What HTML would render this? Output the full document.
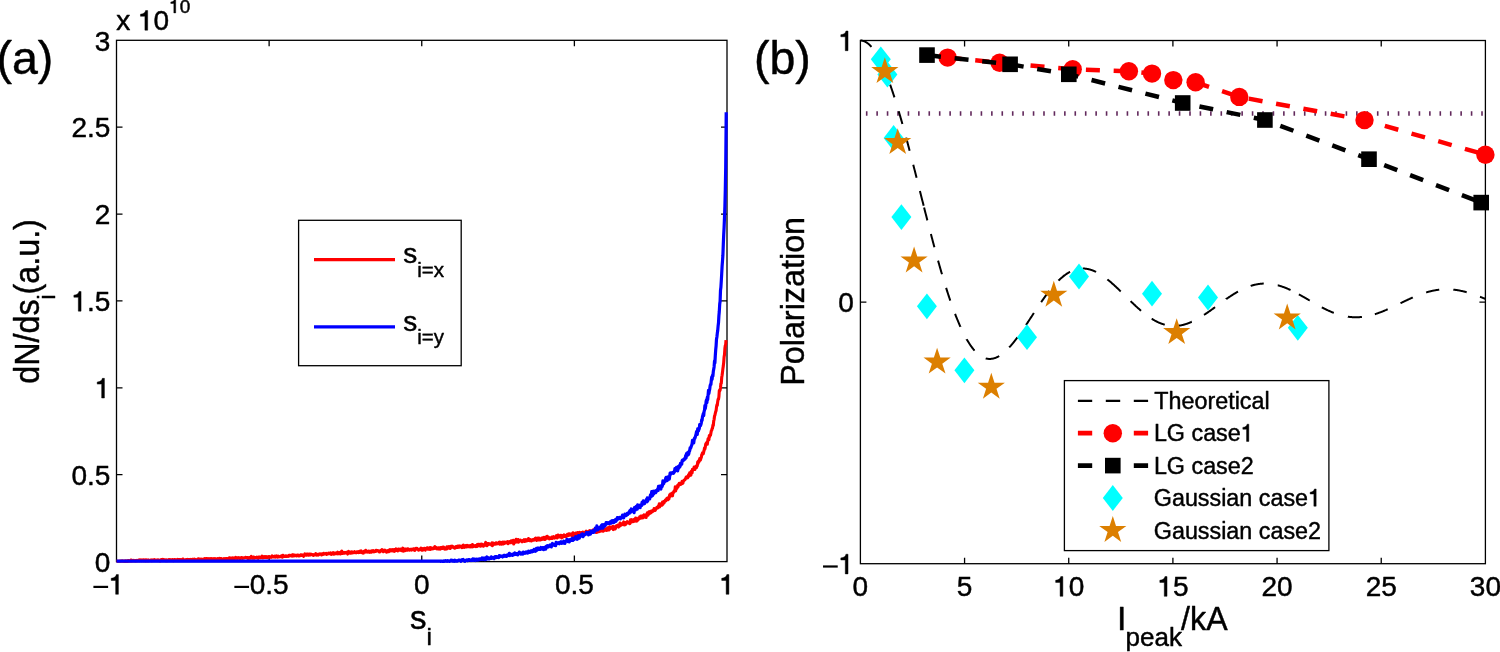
<!DOCTYPE html>
<html><head><meta charset="utf-8"><style>
html,body{margin:0;padding:0;background:#fff;width:1500px;height:652px;overflow:hidden}
svg{display:block;font-family:"Liberation Sans", sans-serif;will-change:transform}
text,.g1{stroke:#000;stroke-width:.45px;stroke-linejoin:round}
</style></head><body>
<svg width="1500" height="652" viewBox="0 0 1500 652" font-family='"Liberation Sans", sans-serif'>
<rect width="1500" height="652" fill="#fff"/>
<rect x="116.5" y="40.3" width="610.5" height="521.3" fill="none" stroke="#000" stroke-width="1.3"/>
<path d="M269.12 561.6V555.6M269.12 40.3V46.3M421.75 561.6V555.6M421.75 40.3V46.3M574.38 561.6V555.6M574.38 40.3V46.3M116.5 474.72H122.5M727 474.72H721M116.5 387.83H122.5M727 387.83H721M116.5 300.95H122.5M727 300.95H721M116.5 214.07H122.5M727 214.07H721M116.5 127.18H122.5M727 127.18H721" stroke="#000" stroke-width="1.3" fill="none"/>
<polyline points="116.5,561.3 116.9,561.28 117.3,561.27 117.7,561.25 118.1,561.23 118.5,561.21 118.9,561.2 119.3,561.18 119.7,561.16 120.1,561.15 120.5,561.13 120.9,561.11 121.3,561.03 121.7,560.93 122.1,560.83 122.5,560.96 122.9,561.14 123.3,560.96 123.7,561.22 124.1,560.94 124.5,560.97 124.9,561.3 125.3,561.06 125.7,560.8 126.1,560.86 126.5,561.02 126.9,561.3 127.3,560.79 127.7,560.78 128.1,561.07 128.5,560.59 128.9,560.73 129.3,561 129.7,560.91 130.1,560.78 130.5,560.91 130.9,560.01 131.3,560.97 131.7,560.45 132.1,560.26 132.5,560.74 132.9,560.84 133.3,560.53 133.7,560.35 134.1,560.62 134.5,560.59 134.9,560.96 135.3,560.77 135.7,560.62 136.1,560.85 136.5,560.49 136.9,560.29 137.3,560.68 137.7,560.66 138.1,560.44 138.5,560.28 138.9,560.54 139.3,559.79 139.7,560.64 140.1,560.58 140.5,559.99 140.9,560.44 141.3,560.15 141.7,560.61 142.1,559.84 142.5,560.14 142.9,560.58 143.3,560.69 143.7,559.77 144.1,560.22 144.5,560.44 144.9,560.17 145.3,560.77 145.7,559.99 146.1,560.41 146.5,560.01 146.9,560.69 147.3,560.29 147.7,560.18 148.1,559.8 148.5,560.74 148.9,560.48 149.3,560.47 149.7,560.57 150.1,560.34 150.5,560.06 150.9,560 151.3,560 151.7,560.61 152.1,559.8 152.5,560.04 152.9,560.11 153.3,560.26 153.7,560.35 154.1,559.82 154.5,559.68 154.9,560.17 155.3,560.51 155.7,560.38 156.1,560.21 156.5,560.05 156.9,560.23 157.3,560.06 157.7,560.37 158.1,559.89 158.5,560.16 158.9,560.08 159.3,560.27 159.7,560.17 160.1,560.84 160.5,560.53 160.9,560.52 161.3,559.48 161.7,559.98 162.1,559.89 162.5,560.22 162.9,559.39 163.3,560.4 163.7,560.36 164.1,559.66 164.5,559.75 164.9,559.8 165.3,560.04 165.7,560.21 166.1,560.62 166.5,559.95 166.9,560.23 167.3,560.05 167.7,560.52 168.1,560.21 168.5,560.39 168.9,559.66 169.3,559.92 169.7,559.72 170.1,560.41 170.5,560.15 170.9,559.86 171.3,559.81 171.7,560.08 172.1,559.72 172.5,559.65 172.9,560.07 173.3,560.66 173.7,559.83 174.1,559.73 174.5,559.54 174.9,559.49 175.3,560.04 175.7,560.14 176.1,559.87 176.5,559.96 176.9,559.89 177.3,559.89 177.7,559.38 178.1,559.7 178.5,559.86 178.9,559.58 179.3,559.67 179.7,559.55 180.1,559.7 180.5,560.05 180.9,559.66 181.3,559.73 181.7,560.02 182.1,559.96 182.5,560.28 182.9,559.09 183.3,560 183.7,559.58 184.1,559.76 184.5,559.97 184.9,560.04 185.3,560.02 185.7,559.73 186.1,560.18 186.5,559.58 186.9,559.61 187.3,559.9 187.7,559.47 188.1,560.32 188.5,559.95 188.9,560.31 189.3,559.6 189.7,559.48 190.1,559.64 190.5,559.81 190.9,559.38 191.3,559.68 191.7,559.55 192.1,560.06 192.5,559.32 192.9,559.86 193.3,559.31 193.7,559.2 194.1,559.27 194.5,559.1 194.9,559.53 195.3,559.8 195.7,559.51 196.1,559.65 196.5,559.97 196.9,559.52 197.3,559.48 197.7,559.32 198.1,558.87 198.5,559.64 198.9,558.8 199.3,559.59 199.7,559.36 200.1,559.72 200.5,559.32 200.9,559.06 201.3,559.44 201.7,559.12 202.1,559.24 202.5,559.3 202.9,559.23 203.3,559.21 203.7,558.98 204.1,559.18 204.5,558.52 204.9,559.17 205.3,558.81 205.7,559.58 206.1,559.62 206.5,558.53 206.9,559.22 207.3,559.12 207.7,558.8 208.1,559.32 208.5,558.97 208.9,558.52 209.3,559.02 209.7,559.05 210.1,559.12 210.5,558.65 210.9,559.28 211.3,559.31 211.7,558.65 212.1,558.8 212.5,558.99 212.9,558.81 213.3,559.6 213.7,559.06 214.1,558.62 214.5,558.69 214.9,558.93 215.3,559.74 215.7,558.87 216.1,558.96 216.5,559.09 216.9,558.88 217.3,559.68 217.7,558.68 218.1,559.12 218.5,558.9 218.9,559.05 219.3,558.41 219.7,559.44 220.1,558.76 220.5,558.8 220.9,558.44 221.3,558.5 221.7,558.95 222.1,559.09 222.5,558.99 222.9,559.14 223.3,558.96 223.7,558.7 224.1,558.97 224.5,558.87 224.9,558.61 225.3,558.9 225.7,559.09 226.1,558.69 226.5,558.47 226.9,558.84 227.3,559.26 227.7,558.48 228.1,558.51 228.5,558.48 228.9,558.96 229.3,557.83 229.7,558.62 230.1,558.91 230.5,558.16 230.9,558.99 231.3,558.63 231.7,558.21 232.1,558.48 232.5,557.82 232.9,558.17 233.3,559.04 233.7,558.01 234.1,559.02 234.5,558.29 234.9,558.68 235.3,558.31 235.7,557.43 236.1,558.04 236.5,558.32 236.9,557.8 237.3,557.71 237.7,558.34 238.1,557.94 238.5,557.53 238.9,557.9 239.3,558.47 239.7,557.95 240.1,558.47 240.5,558.68 240.9,558.09 241.3,557.63 241.7,557.55 242.1,558.02 242.5,558.36 242.9,558.11 243.3,558.2 243.7,557.8 244.1,558.07 244.5,557.76 244.9,557.8 245.3,557.41 245.7,557.28 246.1,557.69 246.5,557.43 246.9,557.47 247.3,558.09 247.7,557.77 248.1,558.94 248.5,558.14 248.9,557.51 249.3,558.05 249.7,557.87 250.1,557.44 250.5,558.13 250.9,557.37 251.3,556.44 251.7,557.96 252.1,557.38 252.5,558.2 252.9,557.33 253.3,557.1 253.7,558.18 254.1,557.11 254.5,557.6 254.9,558.09 255.3,557.53 255.7,557.43 256.1,557.49 256.5,557.77 256.9,557.09 257.3,557.64 257.7,557.61 258.1,558.31 258.5,557.2 258.9,556.95 259.3,557.61 259.7,557.12 260.1,557.39 260.5,557.3 260.9,557.71 261.3,556.94 261.7,557.15 262.1,556.12 262.5,556.79 262.9,557.78 263.3,556.83 263.7,556.81 264.1,556.57 264.5,557.3 264.9,557.12 265.3,556.53 265.7,557.29 266.1,557.1 266.5,557.28 266.9,556.68 267.3,557.66 267.7,557.08 268.1,556.84 268.5,556.65 268.9,556.75 269.3,557.2 269.7,556.7 270.1,557.26 270.5,557.02 270.9,557.33 271.3,557.09 271.7,556.69 272.1,555.88 272.5,556.81 272.9,557 273.3,556.71 273.7,556.86 274.1,556.4 274.5,556.42 274.9,556.15 275.3,557.13 275.7,556.59 276.1,556.29 276.5,555.9 276.9,556.39 277.3,557.07 277.7,556.62 278.1,556.08 278.5,557.01 278.9,556.99 279.3,556.77 279.7,556.67 280.1,556.81 280.5,556.52 280.9,556.6 281.3,555.89 281.7,556.88 282.1,556.3 282.5,557.08 282.9,555.24 283.3,556.45 283.7,556.55 284.1,555.94 284.5,556.27 284.9,556.39 285.3,556.29 285.7,555.76 286.1,555.92 286.5,556.43 286.9,556.52 287.3,555.97 287.7,555.94 288.1,555.97 288.5,556.33 288.9,555.36 289.3,555.21 289.7,555.85 290.1,555.27 290.5,555.48 290.9,555.77 291.3,555.93 291.7,555.19 292.1,556.03 292.5,554.82 292.9,555.87 293.3,554.87 293.7,554.99 294.1,555.86 294.5,555.35 294.9,555.14 295.3,555.28 295.7,555.69 296.1,555.42 296.5,555.41 296.9,555.9 297.3,555.05 297.7,555.14 298.1,555.09 298.5,555.87 298.9,555.76 299.3,555.88 299.7,555.24 300.1,555.15 300.5,555.61 300.9,555 301.3,555.56 301.7,555.48 302.1,554.78 302.5,555.05 302.9,555.01 303.3,555.88 303.7,556.26 304.1,554.95 304.5,554.99 304.9,553.86 305.3,555.03 305.7,554.91 306.1,554.37 306.5,555.24 306.9,554.08 307.3,554.71 307.7,554.86 308.1,554.16 308.5,555.16 308.9,555.24 309.3,554.02 309.7,553.99 310.1,554.95 310.5,554.62 310.9,554.01 311.3,554.44 311.7,554.51 312.1,554.47 312.5,554.92 312.9,554.68 313.3,555.34 313.7,555.12 314.1,554.76 314.5,554.93 314.9,555.03 315.3,554.7 315.7,553.72 316.1,554.73 316.5,554.32 316.9,555.07 317.3,554.28 317.7,554.48 318.1,554.36 318.5,555.01 318.9,554.23 319.3,553.99 319.7,554.26 320.1,553.86 320.5,554.14 320.9,554.03 321.3,554.15 321.7,554.96 322.1,553.76 322.5,553.96 322.9,553.82 323.3,554.24 323.7,553.28 324.1,553.5 324.5,553.81 324.9,554.09 325.3,553.77 325.7,553.51 326.1,553.3 326.5,553.99 326.9,554.45 327.3,553.85 327.7,553.76 328.1,553.87 328.5,553.13 328.9,553.44 329.3,553.44 329.7,553.71 330.1,553.52 330.5,552.88 330.9,554.08 331.3,554.35 331.7,553.31 332.1,553.64 332.5,553.55 332.9,553.8 333.3,552.6 333.7,554.19 334.1,553.08 334.5,553.97 334.9,553.33 335.3,553.06 335.7,553.17 336.1,553.69 336.5,552.75 336.9,552.98 337.3,552.9 337.7,552.23 338.1,553.8 338.5,553.4 338.9,553.06 339.3,553.67 339.7,552.53 340.1,552.98 340.5,553.91 340.9,553.49 341.3,551.77 341.7,551.16 342.1,552.36 342.5,553.46 342.9,552.62 343.3,552.73 343.7,553.15 344.1,552.33 344.5,552.9 344.9,553.19 345.3,553 345.7,552.94 346.1,552.38 346.5,552.96 346.9,552.43 347.3,553.34 347.7,554.01 348.1,552.2 348.5,551.4 348.9,552.33 349.3,552.74 349.7,553.08 350.1,553.08 350.5,552.05 350.9,552.02 351.3,553.12 351.7,551.82 352.1,552.98 352.5,552.24 352.9,552.77 353.3,552.71 353.7,552.73 354.1,552.73 354.5,551.72 354.9,552.4 355.3,552.23 355.7,552.37 356.1,552.85 356.5,552.01 356.9,551.74 357.3,551.71 357.7,551.92 358.1,552.48 358.5,551.6 358.9,552.67 359.3,552.17 359.7,551.86 360.1,551.22 360.5,552.08 360.9,552.3 361.3,550.92 361.7,552.54 362.1,552.77 362.5,552.02 362.9,552.09 363.3,553.14 363.7,552.46 364.1,551.25 364.5,551.72 364.9,551.62 365.3,551.6 365.7,550.34 366.1,552.07 366.5,551.26 366.9,551.69 367.3,551.5 367.7,552.05 368.1,551.37 368.5,551.07 368.9,551.8 369.3,552.27 369.7,551.27 370.1,552.21 370.5,551.56 370.9,551.09 371.3,552.24 371.7,550.88 372.1,551.91 372.5,551.03 372.9,551.55 373.3,550.57 373.7,550.77 374.1,551.84 374.5,551.32 374.9,551.21 375.3,550.92 375.7,551.4 376.1,550.33 376.5,550.47 376.9,551 377.3,550.59 377.7,550.65 378.1,550.99 378.5,550.93 378.9,550.87 379.3,551.93 379.7,551.54 380.1,551.65 380.5,550.9 380.9,550.61 381.3,550.04 381.7,550.66 382.1,549.63 382.5,550.49 382.9,551.25 383.3,551.73 383.7,551.33 384.1,550.25 384.5,551.02 384.9,550.25 385.3,551.17 385.7,550.61 386.1,551.16 386.5,552.14 386.9,551.16 387.3,551.97 387.7,550.69 388.1,550.37 388.5,551.33 388.9,551.54 389.3,550.19 389.7,550.54 390.1,549.63 390.5,550.34 390.9,550.96 391.3,550.37 391.7,550.07 392.1,549.56 392.5,550.59 392.9,550.82 393.3,550.69 393.7,550.47 394.1,549.54 394.5,551.32 394.9,550.23 395.3,550.16 395.7,550.66 396.1,548.93 396.5,550.15 396.9,550.09 397.3,550.38 397.7,550.94 398.1,550.4 398.5,549.01 398.9,549.88 399.3,550.19 399.7,550.14 400.1,549.27 400.5,549.02 400.9,550.32 401.3,550.18 401.7,549.95 402.1,548.91 402.5,550.98 402.9,548.17 403.3,549.67 403.7,551.12 404.1,549.76 404.5,549.97 404.9,549.11 405.3,550.61 405.7,549 406.1,549.92 406.5,549.83 406.9,549.1 407.3,550.25 407.7,548.84 408.1,549.26 408.5,549.64 408.9,549.39 409.3,549.91 409.7,550.17 410.1,549.41 410.5,549.25 410.9,549.25 411.3,549.32 411.7,550.02 412.1,549.38 412.5,549.74 412.9,549.42 413.3,548.94 413.7,549.97 414.1,548.79 414.5,549.41 414.9,550.3 415.3,548.71 415.7,549.32 416.1,548.37 416.5,549.01 416.9,548.39 417.3,549.07 417.7,548.94 418.1,549.34 418.5,550.21 418.9,549.39 419.3,549.61 419.7,549.15 420.1,549.02 420.5,548.64 420.9,548.03 421.3,549.16 421.7,550.1 422.1,549.37 422.5,548.73 422.9,550.06 423.3,548.76 423.7,548.63 424.1,548.24 424.5,548.38 424.9,548.8 425.3,550.17 425.7,548.79 426.1,548.26 426.5,548.5 426.9,548.72 427.3,547.77 427.7,548.9 428.1,549.23 428.5,548.98 428.9,549.13 429.3,547.93 429.7,547.66 430.1,549.5 430.5,549.36 430.9,547.69 431.3,548.76 431.7,548.63 432.1,548.93 432.5,548.7 432.9,548.23 433.3,548.65 433.7,548.6 434.1,548.45 434.5,547.3 434.9,546.56 435.3,547.92 435.7,547.37 436.1,548.53 436.5,548.8 436.9,548.49 437.3,548.07 437.7,548.33 438.1,549 438.5,547.78 438.9,548.8 439.3,548.64 439.7,548.33 440.1,549.07 440.5,547.67 440.9,548.7 441.3,547.49 441.7,547.56 442.1,547.35 442.5,548.29 442.9,547.38 443.3,547.99 443.7,547.21 444.1,548.59 444.5,549.06 444.9,548 445.3,548.89 445.7,548.17 446.1,549.18 446.5,547.83 446.9,546.73 447.3,548.67 447.7,547.6 448.1,546.99 448.5,547.21 448.9,546.56 449.3,547.48 449.7,546.87 450.1,548.49 450.5,547.94 450.9,546.41 451.3,546.48 451.7,547.06 452.1,546.15 452.5,547.3 452.9,547.32 453.3,546.82 453.7,546.94 454.1,547.59 454.5,548.16 454.9,548.19 455.3,547.21 455.7,547.72 456.1,546.65 456.5,547.37 456.9,546.45 457.3,547.52 457.7,546.21 458.1,546.36 458.5,546.95 458.9,547.3 459.3,545.96 459.7,546.52 460.1,546.93 460.5,546.97 460.9,546.23 461.3,546.82 461.7,546.55 462.1,547.62 462.5,547.04 462.9,545.76 463.3,545.15 463.7,546.64 464.1,547.33 464.5,546.63 464.9,547.07 465.3,546.13 465.7,545.52 466.1,546.89 466.5,546.43 466.9,546.78 467.3,545.37 467.7,546.39 468.1,545.81 468.5,546.74 468.9,545.77 469.3,545.72 469.7,545.7 470.1,546.91 470.5,546.05 470.9,545.48 471.3,545.27 471.7,545.21 472.1,546.87 472.5,544.62 472.9,545.23 473.3,546.2 473.7,546.53 474.1,545.6 474.5,546.19 474.9,546.14 475.3,546.25 475.7,545.58 476.1,546.63 476.5,545.61 476.9,546.48 477.3,544.65 477.7,546 478.1,544.46 478.5,544.26 478.9,545.59 479.3,544.64 479.7,545.47 480.1,544.39 480.5,546.19 480.9,545.05 481.3,544.23 481.7,545.09 482.1,545.54 482.5,544.35 482.9,545.2 483.3,546.23 483.7,545.37 484.1,544.72 484.5,544.28 484.9,545.04 485.3,543.54 485.7,542.43 486.1,544.05 486.5,543.71 486.9,545.65 487.3,544.49 487.7,543.65 488.1,543.49 488.5,544.61 488.9,543.63 489.3,543.77 489.7,544.07 490.1,544.15 490.5,544.12 490.9,544.09 491.3,544.89 491.7,545.13 492.1,542.71 492.5,545.67 492.9,543.89 493.3,544.64 493.7,543.19 494.1,543.9 494.5,543.78 494.9,543.67 495.3,544.15 495.7,543.96 496.1,542.74 496.5,543.33 496.9,543.9 497.3,543.83 497.7,543.05 498.1,543.05 498.5,543.1 498.9,542.37 499.3,542.2 499.7,544.22 500.1,542.76 500.5,543.07 500.9,542.42 501.3,543.87 501.7,544.16 502.1,542.68 502.5,543.18 502.9,542.22 503.3,544.01 503.7,543.36 504.1,542.03 504.5,543.52 504.9,542.83 505.3,542.83 505.7,542.75 506.1,541.96 506.5,542.02 506.9,542.83 507.3,542.3 507.7,541.6 508.1,543.75 508.5,542.06 508.9,541.76 509.3,541.62 509.7,542.61 510.1,542.78 510.5,542.21 510.9,542.63 511.3,540.84 511.7,541.63 512.1,541.52 512.5,541.84 512.9,542.16 513.3,540.24 513.7,544.04 514.1,541.03 514.5,541.9 514.9,542.22 515.3,542.2 515.7,541.7 516.1,539.3 516.5,540.63 516.9,541.97 517.3,540.67 517.7,540.53 518.1,539.51 518.5,542.16 518.9,541.59 519.3,540.49 519.7,541.02 520.1,541.01 520.5,540.2 520.9,540.8 521.3,541.16 521.7,541.34 522.1,541.84 522.5,540.87 522.9,540.45 523.3,541.07 523.7,540.24 524.1,539.73 524.5,541.51 524.9,540.31 525.3,540.65 525.7,541.02 526.1,539.64 526.5,540.93 526.9,540.75 527.3,540.29 527.7,540.62 528.1,539.7 528.5,538.55 528.9,539.98 529.3,539.46 529.7,540.78 530.1,540.28 530.5,539.62 530.9,540.03 531.3,540.99 531.7,540.78 532.1,540.15 532.5,540.15 532.9,539.56 533.3,539.63 533.7,540.15 534.1,539.55 534.5,539.84 534.9,538.69 535.3,538.22 535.7,538.15 536.1,539.09 536.5,540.42 536.9,540.26 537.3,538.51 537.7,538.03 538.1,539.82 538.5,539.52 538.9,538.04 539.3,539.89 539.7,539.15 540.1,540.01 540.5,539.19 540.9,539.58 541.3,539.08 541.7,538.03 542.1,538.55 542.5,538.15 542.9,539.3 543.3,537.8 543.7,537.33 544.1,539.04 544.5,539.36 544.9,539.55 545.3,539.22 545.7,537.1 546.1,537.69 546.5,537.76 546.9,538.13 547.3,536.38 547.7,538.04 548.1,538.22 548.5,537.19 548.9,538 549.3,538.81 549.7,537.84 550.1,538.6 550.5,538.51 550.9,537.98 551.3,537.9 551.7,537.24 552.1,538.5 552.5,537.06 552.9,536.82 553.3,537.91 553.7,536.7 554.1,537.58 554.5,538.04 554.9,537.19 555.3,537.16 555.7,537.77 556.1,537.58 556.5,535.66 556.9,535.79 557.3,537.9 557.7,537.07 558.1,535 558.5,535.54 558.9,536.61 559.3,535.73 559.7,536.87 560.1,536.49 560.5,536.78 560.9,535.36 561.3,536.78 561.7,537.83 562.1,535.5 562.5,537.19 562.9,536.86 563.3,536.52 563.7,535.88 564.1,534.91 564.5,535.09 564.9,536.4 565.3,536.52 565.7,536.67 566.1,536.39 566.5,536.29 566.9,535.11 567.3,534.41 567.7,535.53 568.1,535.72 568.5,535.31 568.9,533.91 569.3,534.69 569.7,533.82 570.1,535.13 570.5,534.06 570.9,534.75 571.3,535.1 571.7,534.88 572.1,535.87 572.5,533.71 572.9,532.74 573.3,535.33 573.7,535.66 574.1,535.63 574.5,534.59 574.9,534.74 575.3,534.32 575.7,533.05 576.1,533.6 576.5,534.45 576.9,533.46 577.3,535.52 577.7,532.49 578.1,533.37 578.5,534.63 578.9,533.08 579.3,532.56 579.7,532.29 580.1,532.76 580.5,534.62 580.9,533.59 581.3,533.61 581.7,532.64 582.1,533.75 582.5,533.04 582.9,532.07 583.3,532.4 583.7,532.9 584.1,533.67 584.5,532.53 584.9,532.94 585.3,534.2 585.7,531.66 586.1,531.2 586.5,533.08 586.9,532.53 587.3,531.99 587.7,532.24 588.1,531.65 588.5,532.33 588.9,531.51 589.3,532.45 589.7,530.64 590.1,530.89 590.5,531.66 590.9,531.07 591.3,532.05 591.7,531.34 592.1,530.83 592.5,531.45 592.9,530.74 593.3,529.77 593.7,530.1 594.1,530.35 594.5,530.6 594.9,531.06 595.3,531.75 595.7,531.38 596.1,532.44 596.5,531.95 596.9,530.6 597.3,532.21 597.7,531.75 598.1,530.24 598.5,530.89 598.9,531.55 599.3,530.74 599.7,531.4 600.1,530.8 600.5,531.04 600.9,530.07 601.3,530.65 601.7,529.94 602.1,530.83 602.5,528.64 602.9,530.42 603.3,531.2 603.7,530.54 604.1,529.93 604.5,530.38 604.9,529.06 605.3,529.01 605.7,529.37 606.1,529.49 606.5,530.43 606.9,528.65 607.3,530.29 607.7,527.83 608.1,528.45 608.5,529.03 608.9,530.01 609.3,528.26 609.7,526.72 610.1,528.96 610.5,528.41 610.9,527.3 611.3,527.19 611.7,527.38 612.1,527.97 612.5,528.35 612.9,526.2 613.3,529.58 613.7,527.25 614.1,526.78 614.5,527.61 614.9,526.93 615.3,528.89 615.7,527.56 616.1,526.02 616.5,525.85 616.9,525.6 617.3,525.6 617.7,526.43 618.1,525.03 618.5,527.06 618.9,525.29 619.3,525.1 619.7,526.02 620.1,523.06 620.5,523.93 620.9,525.29 621.3,524.59 621.7,524.43 622.1,524.7 622.5,523.6 622.9,523.89 623.3,522.59 623.7,521.96 624.1,524.91 624.5,522.62 624.9,522.7 625.3,524.65 625.7,524.19 626.1,522.49 626.5,522.36 626.9,522.67 627.3,521.67 627.7,523.03 628.1,522.5 628.5,522.35 628.9,522.84 629.3,522.67 629.7,523.66 630.1,523.2 630.5,519.81 630.9,522.3 631.3,520.12 631.7,519.66 632.1,521.68 632.5,520.1 632.9,520.35 633.3,521.61 633.7,519.69 634.1,519.3 634.5,520.4 634.9,521.16 635.3,520.29 635.7,517.99 636.1,518.76 636.5,519.1 636.9,521.09 637.3,519.85 637.7,519.64 638.1,519.83 638.5,518.08 638.9,518.73 639.3,518.56 639.7,516.85 640.1,517.67 640.5,518.09 640.9,516.18 641.3,517.98 641.7,517.73 642.1,517.83 642.5,515.72 642.9,516.46 643.3,517.69 643.7,516.79 644.1,514.9 644.5,515.78 644.9,516.85 645.3,515.04 645.7,515.32 646.1,517.47 646.5,514.44 646.9,514.14 647.3,512.95 647.7,513.1 648.1,515.21 648.5,513.21 648.9,511.84 649.3,511.88 649.7,512.68 650.1,513.28 650.5,511.38 650.9,512.75 651.3,511.17 651.7,511.87 652.1,511.8 652.5,511.65 652.9,510.24 653.3,510.28 653.7,510.78 654.1,508.49 654.5,509.88 654.9,510.01 655.3,510.34 655.7,508.85 656.1,508.41 656.5,508.51 656.9,507.23 657.3,507.55 657.7,507.98 658.1,507.54 658.5,505.71 658.9,506.24 659.3,503.85 659.7,506.92 660.1,505.05 660.5,505.63 660.9,503.73 661.3,504.58 661.7,504.87 662.1,505.16 662.5,502.03 662.9,504.29 663.3,502.73 663.7,501.64 664.1,502.77 664.5,501.47 664.9,501.09 665.3,500.21 665.7,500.94 666.1,500.32 666.5,499.67 666.9,498.32 667.3,498.42 667.7,499.07 668.1,499.67 668.5,497.63 668.9,498.88 669.3,496.69 669.7,494.91 670.1,496.49 670.5,494.08 670.9,495.24 671.3,495.56 671.7,493.44 672.1,493.24 672.5,495.84 672.9,492.71 673.3,492.27 673.7,492.43 674.1,490.91 674.5,490.45 674.9,490.55 675.3,486.76 675.7,490.86 676.1,487.42 676.5,486.95 676.9,488.42 677.3,487.35 677.7,485.37 678.1,486.67 678.5,484.6 678.9,484.69 679.3,483.28 679.7,483.65 680.1,484.68 680.5,483.93 680.9,483.73 681.3,484.05 681.7,482.48 682.1,481.34 682.5,481.4 682.9,483.32 683.3,480.99 683.7,480.95 684.1,480.07 684.5,480.09 684.9,479.93 685.3,479.02 685.7,478.46 686.1,477.32 686.5,476.85 686.9,477.95 687.3,477.96 687.7,477.76 688.1,476.31 688.5,474.84 688.9,476.15 689.3,475.7 689.7,472.72 690.1,475.05 690.5,474.35 690.9,475.2 691.3,471.41 691.7,470.78 692.1,472.79 692.5,469.24 692.9,470.03 693.3,469.11 693.7,468.7 694.1,467.11 694.5,468.58 694.9,469.48 695.3,468.27 695.7,467.67 696.1,466.09 696.5,467.6 696.9,465.84 697.3,465.78 697.7,461.96 698.1,463.5 698.5,460.97 698.9,462 699.3,461.05 699.7,458.68 700.1,459.44 700.5,459.82 700.9,458.21 701.3,457.5 701.7,454.92 702.1,454.27 702.5,452.86 702.9,453.43 703.3,453.76 703.7,451.9 704.1,450.41 704.5,448.09 704.9,448.98 705.3,447.17 705.7,444.16 706.1,443.35 706.5,443.97 706.9,442.25 707.3,444.22 707.7,441.21 708.1,438.83 708.5,438.38 708.9,439.75 709.3,435.63 709.7,436.61 710.1,435.13 710.5,435.26 710.9,433 711.3,430.68 711.7,430.52 712.1,428.59 712.5,428.18 712.9,425.18 713.3,425.62 713.7,421.02 714.1,419.55 714.5,416.22 714.9,415.26 715.3,413.29 715.7,411.63 716.1,410.68 716.5,407.13 716.9,404.9 717.3,405.32 717.7,401.68 718.1,399.22 718.5,399.36 718.9,396.81 719.3,390.55 719.7,390.99 720.1,390.04 720.5,387.67 720.9,383.51 721.3,383.3 721.7,377.61 722.1,375.19 722.5,372.32 722.9,368.7 723.3,366.06 723.7,362.35 724.1,356.92 724.5,354.64 724.9,348.48 725.3,345.53 725.7,344.49 726,340.15" fill="none" stroke="#f00" stroke-width="3.1" stroke-linejoin="round"/><polyline points="116.5,561.2 116.9,561.2 117.3,561.2 117.7,561.2 118.1,561.2 118.5,561.2 118.9,561.2 119.3,561.2 119.7,561.2 120.1,561.2 120.5,561.2 120.9,561.2 121.3,561.2 121.7,561.2 122.1,561.2 122.5,561.2 122.9,561.2 123.3,561.2 123.7,561.2 124.1,561.2 124.5,561.2 124.9,561.2 125.3,561.2 125.7,561.2 126.1,561.2 126.5,561.2 126.9,561.2 127.3,561.2 127.7,561.2 128.1,561.2 128.5,561.2 128.9,561.2 129.3,561.2 129.7,561.2 130.1,561.2 130.5,561.2 130.9,561.2 131.3,561.2 131.7,561.2 132.1,561.2 132.5,561.2 132.9,561.2 133.3,561.2 133.7,561.2 134.1,561.2 134.5,561.2 134.9,561.2 135.3,561.2 135.7,561.2 136.1,561.2 136.5,561.2 136.9,561.2 137.3,561.2 137.7,561.2 138.1,561.2 138.5,561.2 138.9,561.2 139.3,561.2 139.7,561.2 140.1,561.2 140.5,561.2 140.9,561.2 141.3,561.2 141.7,561.2 142.1,561.2 142.5,561.2 142.9,561.2 143.3,561.2 143.7,561.2 144.1,561.2 144.5,561.2 144.9,561.2 145.3,561.2 145.7,561.2 146.1,561.2 146.5,561.2 146.9,561.2 147.3,561.2 147.7,561.2 148.1,561.2 148.5,561.2 148.9,561.2 149.3,561.2 149.7,561.2 150.1,561.2 150.5,561.2 150.9,561.2 151.3,561.2 151.7,561.2 152.1,561.2 152.5,561.2 152.9,561.2 153.3,561.2 153.7,561.2 154.1,561.2 154.5,561.2 154.9,561.2 155.3,561.2 155.7,561.2 156.1,561.2 156.5,561.2 156.9,561.2 157.3,561.2 157.7,561.2 158.1,561.2 158.5,561.2 158.9,561.2 159.3,561.2 159.7,561.2 160.1,561.2 160.5,561.2 160.9,561.2 161.3,561.2 161.7,561.2 162.1,561.2 162.5,561.2 162.9,561.2 163.3,561.2 163.7,561.2 164.1,561.2 164.5,561.2 164.9,561.2 165.3,561.2 165.7,561.2 166.1,561.2 166.5,561.2 166.9,561.2 167.3,561.2 167.7,561.2 168.1,561.2 168.5,561.2 168.9,561.2 169.3,561.2 169.7,561.2 170.1,561.2 170.5,561.2 170.9,561.2 171.3,561.2 171.7,561.2 172.1,561.2 172.5,561.2 172.9,561.2 173.3,561.2 173.7,561.2 174.1,561.2 174.5,561.2 174.9,561.2 175.3,561.2 175.7,561.2 176.1,561.2 176.5,561.2 176.9,561.2 177.3,561.2 177.7,561.2 178.1,561.2 178.5,561.2 178.9,561.2 179.3,561.2 179.7,561.2 180.1,561.2 180.5,561.2 180.9,561.2 181.3,561.2 181.7,561.2 182.1,561.2 182.5,561.2 182.9,561.2 183.3,561.2 183.7,561.2 184.1,561.2 184.5,561.2 184.9,561.2 185.3,561.2 185.7,561.2 186.1,561.2 186.5,561.2 186.9,561.2 187.3,561.2 187.7,561.2 188.1,561.2 188.5,561.2 188.9,561.2 189.3,561.2 189.7,561.2 190.1,561.2 190.5,561.2 190.9,561.2 191.3,561.2 191.7,561.2 192.1,561.2 192.5,561.2 192.9,561.2 193.3,561.2 193.7,561.2 194.1,561.2 194.5,561.2 194.9,561.2 195.3,561.2 195.7,561.2 196.1,561.2 196.5,561.2 196.9,561.2 197.3,561.2 197.7,561.2 198.1,561.2 198.5,561.2 198.9,561.2 199.3,561.2 199.7,561.2 200.1,561.2 200.5,561.2 200.9,561.2 201.3,561.2 201.7,561.2 202.1,561.2 202.5,561.2 202.9,561.2 203.3,561.2 203.7,561.2 204.1,561.2 204.5,561.2 204.9,561.2 205.3,561.2 205.7,561.2 206.1,561.2 206.5,561.2 206.9,561.2 207.3,561.2 207.7,561.2 208.1,561.2 208.5,561.2 208.9,561.2 209.3,561.2 209.7,561.2 210.1,561.2 210.5,561.2 210.9,561.2 211.3,561.2 211.7,561.2 212.1,561.2 212.5,561.2 212.9,561.2 213.3,561.2 213.7,561.2 214.1,561.2 214.5,561.2 214.9,561.2 215.3,561.2 215.7,561.2 216.1,561.2 216.5,561.2 216.9,561.2 217.3,561.2 217.7,561.2 218.1,561.2 218.5,561.2 218.9,561.2 219.3,561.2 219.7,561.2 220.1,561.2 220.5,561.2 220.9,561.2 221.3,561.2 221.7,561.2 222.1,561.2 222.5,561.2 222.9,561.2 223.3,561.2 223.7,561.2 224.1,561.2 224.5,561.2 224.9,561.2 225.3,561.2 225.7,561.2 226.1,561.2 226.5,561.2 226.9,561.2 227.3,561.2 227.7,561.2 228.1,561.2 228.5,561.2 228.9,561.2 229.3,561.2 229.7,561.2 230.1,561.2 230.5,561.2 230.9,561.2 231.3,561.2 231.7,561.2 232.1,561.2 232.5,561.2 232.9,561.2 233.3,561.2 233.7,561.2 234.1,561.2 234.5,561.2 234.9,561.2 235.3,561.2 235.7,561.2 236.1,561.2 236.5,561.2 236.9,561.2 237.3,561.2 237.7,561.2 238.1,561.2 238.5,561.2 238.9,561.2 239.3,561.2 239.7,561.2 240.1,561.2 240.5,561.2 240.9,561.2 241.3,561.2 241.7,561.2 242.1,561.2 242.5,561.2 242.9,561.2 243.3,561.2 243.7,561.2 244.1,561.2 244.5,561.2 244.9,561.2 245.3,561.2 245.7,561.2 246.1,561.2 246.5,561.2 246.9,561.2 247.3,561.2 247.7,561.2 248.1,561.2 248.5,561.2 248.9,561.2 249.3,561.2 249.7,561.2 250.1,561.2 250.5,561.2 250.9,561.2 251.3,561.2 251.7,561.2 252.1,561.2 252.5,561.2 252.9,561.2 253.3,561.2 253.7,561.2 254.1,561.2 254.5,561.2 254.9,561.2 255.3,561.2 255.7,561.2 256.1,561.2 256.5,561.2 256.9,561.2 257.3,561.2 257.7,561.2 258.1,561.2 258.5,561.2 258.9,561.2 259.3,561.2 259.7,561.2 260.1,561.2 260.5,561.2 260.9,561.2 261.3,561.2 261.7,561.2 262.1,561.2 262.5,561.2 262.9,561.2 263.3,561.2 263.7,561.2 264.1,561.2 264.5,561.2 264.9,561.2 265.3,561.2 265.7,561.2 266.1,561.2 266.5,561.2 266.9,561.2 267.3,561.2 267.7,561.2 268.1,561.2 268.5,561.2 268.9,561.2 269.3,561.2 269.7,561.2 270.1,561.2 270.5,561.2 270.9,561.2 271.3,561.2 271.7,561.2 272.1,561.2 272.5,561.2 272.9,561.2 273.3,561.2 273.7,561.2 274.1,561.2 274.5,561.2 274.9,561.2 275.3,561.2 275.7,561.2 276.1,561.2 276.5,561.2 276.9,561.2 277.3,561.2 277.7,561.2 278.1,561.2 278.5,561.2 278.9,561.2 279.3,561.2 279.7,561.2 280.1,561.2 280.5,561.2 280.9,561.2 281.3,561.2 281.7,561.2 282.1,561.2 282.5,561.2 282.9,561.2 283.3,561.2 283.7,561.2 284.1,561.2 284.5,561.2 284.9,561.2 285.3,561.2 285.7,561.2 286.1,561.2 286.5,561.2 286.9,561.2 287.3,561.2 287.7,561.2 288.1,561.2 288.5,561.2 288.9,561.2 289.3,561.2 289.7,561.2 290.1,561.2 290.5,561.2 290.9,561.2 291.3,561.2 291.7,561.2 292.1,561.2 292.5,561.2 292.9,561.2 293.3,561.2 293.7,561.2 294.1,561.2 294.5,561.2 294.9,561.2 295.3,561.2 295.7,561.2 296.1,561.2 296.5,561.2 296.9,561.2 297.3,561.2 297.7,561.2 298.1,561.2 298.5,561.2 298.9,561.2 299.3,561.2 299.7,561.2 300.1,561.2 300.5,561.2 300.9,561.2 301.3,561.2 301.7,561.2 302.1,561.2 302.5,561.2 302.9,561.2 303.3,561.2 303.7,561.2 304.1,561.2 304.5,561.2 304.9,561.2 305.3,561.2 305.7,561.2 306.1,561.2 306.5,561.2 306.9,561.2 307.3,561.2 307.7,561.2 308.1,561.2 308.5,561.2 308.9,561.2 309.3,561.2 309.7,561.2 310.1,561.2 310.5,561.2 310.9,561.2 311.3,561.2 311.7,561.2 312.1,561.2 312.5,561.2 312.9,561.2 313.3,561.2 313.7,561.2 314.1,561.2 314.5,561.2 314.9,561.2 315.3,561.2 315.7,561.2 316.1,561.2 316.5,561.2 316.9,561.2 317.3,561.2 317.7,561.2 318.1,561.2 318.5,561.2 318.9,561.2 319.3,561.2 319.7,561.2 320.1,561.2 320.5,561.2 320.9,561.2 321.3,561.2 321.7,561.2 322.1,561.2 322.5,561.2 322.9,561.2 323.3,561.2 323.7,561.2 324.1,561.2 324.5,561.2 324.9,561.2 325.3,561.2 325.7,561.2 326.1,561.2 326.5,561.2 326.9,561.2 327.3,561.2 327.7,561.2 328.1,561.2 328.5,561.2 328.9,561.2 329.3,561.2 329.7,561.2 330.1,561.2 330.5,561.2 330.9,561.2 331.3,561.2 331.7,561.2 332.1,561.2 332.5,561.2 332.9,561.2 333.3,561.2 333.7,561.2 334.1,561.2 334.5,561.2 334.9,561.2 335.3,561.2 335.7,561.2 336.1,561.2 336.5,561.2 336.9,561.2 337.3,561.2 337.7,561.2 338.1,561.2 338.5,561.2 338.9,561.2 339.3,561.2 339.7,561.2 340.1,561.2 340.5,561.2 340.9,561.2 341.3,561.2 341.7,561.2 342.1,561.2 342.5,561.2 342.9,561.2 343.3,561.2 343.7,561.2 344.1,561.2 344.5,561.2 344.9,561.2 345.3,561.2 345.7,561.2 346.1,561.2 346.5,561.2 346.9,561.2 347.3,561.2 347.7,561.2 348.1,561.2 348.5,561.19 348.9,561.19 349.3,561.19 349.7,561.19 350.1,561.19 350.5,561.19 350.9,561.19 351.3,561.19 351.7,561.19 352.1,561.19 352.5,561.19 352.9,561.19 353.3,561.19 353.7,561.19 354.1,561.19 354.5,561.19 354.9,561.19 355.3,561.19 355.7,561.19 356.1,561.19 356.5,561.19 356.9,561.19 357.3,561.19 357.7,561.19 358.1,561.19 358.5,561.19 358.9,561.19 359.3,561.19 359.7,561.19 360.1,561.19 360.5,561.19 360.9,561.19 361.3,561.19 361.7,561.19 362.1,561.19 362.5,561.19 362.9,561.19 363.3,561.19 363.7,561.19 364.1,561.19 364.5,561.19 364.9,561.19 365.3,561.19 365.7,561.19 366.1,561.19 366.5,561.19 366.9,561.19 367.3,561.19 367.7,561.19 368.1,561.19 368.5,561.19 368.9,561.19 369.3,561.19 369.7,561.19 370.1,561.19 370.5,561.19 370.9,561.19 371.3,561.19 371.7,561.19 372.1,561.19 372.5,561.19 372.9,561.19 373.3,561.19 373.7,561.19 374.1,561.19 374.5,561.19 374.9,561.19 375.3,561.19 375.7,561.19 376.1,561.19 376.5,561.19 376.9,561.19 377.3,561.19 377.7,561.19 378.1,561.19 378.5,561.18 378.9,561.18 379.3,561.18 379.7,561.18 380.1,561.18 380.5,561.18 380.9,561.18 381.3,561.18 381.7,561.18 382.1,561.18 382.5,561.18 382.9,561.18 383.3,561.18 383.7,561.18 384.1,561.18 384.5,561.18 384.9,561.18 385.3,561.18 385.7,561.18 386.1,561.18 386.5,561.18 386.9,561.18 387.3,561.18 387.7,561.18 388.1,561.18 388.5,561.18 388.9,561.18 389.3,561.18 389.7,561.18 390.1,561.18 390.5,561.18 390.9,561.18 391.3,561.18 391.7,561.18 392.1,561.18 392.5,561.18 392.9,561.18 393.3,561.18 393.7,561.18 394.1,561.18 394.5,561.18 394.9,561.18 395.3,561.18 395.7,561.18 396.1,561.18 396.5,561.18 396.9,561.18 397.3,561.18 397.7,561.17 398.1,561.17 398.5,561.17 398.9,561.17 399.3,561.17 399.7,561.17 400.1,561.17 400.5,561.17 400.9,561.17 401.3,561.17 401.7,561.17 402.1,561.17 402.5,561.17 402.9,561.17 403.3,561.17 403.7,561.17 404.1,561.17 404.5,561.17 404.9,561.17 405.3,561.17 405.7,561.17 406.1,561.17 406.5,561.17 406.9,561.17 407.3,561.17 407.7,561.17 408.1,561.17 408.5,561.17 408.9,561.17 409.3,561.17 409.7,561.17 410.1,561.17 410.5,561.17 410.9,561.17 411.3,561.17 411.7,561.17 412.1,561.17 412.5,561.16 412.9,561.16 413.3,561.16 413.7,561.16 414.1,561.16 414.5,561.16 414.9,561.16 415.3,561.16 415.7,561.16 416.1,561.16 416.5,561.16 416.9,561.16 417.3,561.16 417.7,561.16 418.1,561.16 418.5,561.16 418.9,561.16 419.3,561.16 419.7,561.16 420.1,561.16 420.5,561.16 420.9,561.16 421.3,561.16 421.7,561.16 422.1,561.16 422.5,561.16 422.9,561.16 423.3,561.16 423.7,561.16 424.1,561.16 424.5,561.15 424.9,561.15 425.3,561.15 425.7,561.15 426.1,561.15 426.5,561.15 426.9,561.15 427.3,561.15 427.7,561.15 428.1,561.15 428.5,561.15 428.9,561.15 429.3,561.15 429.7,561.15 430.1,561.15 430.5,561.15 430.9,561.15 431.3,561.15 431.7,561.15 432.1,561.15 432.5,561.15 432.9,561.14 433.3,561.14 433.7,561.14 434.1,561.14 434.5,561.14 434.9,561.14 435.3,561.13 435.7,561.13 436.1,561.13 436.5,561.13 436.9,561.12 437.3,561.12 437.7,561.12 438.1,561.12 438.5,561.11 438.9,561.11 439.3,561.11 439.7,561.1 440.1,561.1 440.5,561.3 440.9,561.1 441.3,561.01 441.7,561.24 442.1,561.3 442.5,561.3 442.9,561.3 443.3,560.99 443.7,561.3 444.1,560.95 444.5,561.3 444.9,561.17 445.3,560.87 445.7,560.57 446.1,560.79 446.5,561.19 446.9,561.3 447.3,561.3 447.7,560.59 448.1,560.87 448.5,561.08 448.9,561 449.3,561.07 449.7,561.3 450.1,561.11 450.5,560.73 450.9,560.21 451.3,560.85 451.7,560.29 452.1,560.91 452.5,561.09 452.9,560.4 453.3,560.88 453.7,560.79 454.1,561.3 454.5,561.1 454.9,560.11 455.3,561.07 455.7,561.05 456.1,560.78 456.5,560.69 456.9,561.09 457.3,561.1 457.7,560.99 458.1,560.37 458.5,560.66 458.9,560.09 459.3,560.09 459.7,560.47 460.1,560.24 460.5,560.49 460.9,561.3 461.3,560.84 461.7,560.21 462.1,559.63 462.5,560.18 462.9,559.89 463.3,559.52 463.7,560.79 464.1,560.23 464.5,560.62 464.9,561.3 465.3,560.49 465.7,560.39 466.1,560.47 466.5,560.16 466.9,559.88 467.3,560.13 467.7,560.73 468.1,560.05 468.5,559.51 468.9,559.54 469.3,559.61 469.7,560.07 470.1,560.27 470.5,560.24 470.9,560.55 471.3,559.86 471.7,560.33 472.1,560.06 472.5,560.21 472.9,558.95 473.3,560.41 473.7,559.02 474.1,559.19 474.5,560.09 474.9,559.49 475.3,560.52 475.7,559.69 476.1,559.06 476.5,559.61 476.9,559.29 477.3,560.24 477.7,560.24 478.1,559.75 478.5,559.12 478.9,559.33 479.3,559.79 479.7,558.79 480.1,558.75 480.5,559.56 480.9,559.46 481.3,558.91 481.7,558.84 482.1,557.91 482.5,559.52 482.9,558.78 483.3,558.04 483.7,558.15 484.1,558.23 484.5,559.58 484.9,558.99 485.3,557.84 485.7,559.53 486.1,559.2 486.5,557.84 486.9,556.91 487.3,558.86 487.7,557.94 488.1,558.15 488.5,557.88 488.9,558.83 489.3,558.9 489.7,558.48 490.1,557.88 490.5,558.06 490.9,558.21 491.3,556.9 491.7,558.46 492.1,557.5 492.5,557.78 492.9,557.65 493.3,558.04 493.7,558.08 494.1,558.7 494.5,557.13 494.9,556.75 495.3,557.3 495.7,556.77 496.1,557.62 496.5,556.56 496.9,557.06 497.3,557.49 497.7,557.47 498.1,556.92 498.5,557.6 498.9,557.46 499.3,555.57 499.7,556.77 500.1,556.6 500.5,556.24 500.9,555.96 501.3,556.32 501.7,556.47 502.1,556.34 502.5,556.96 502.9,556.67 503.3,555.61 503.7,555.43 504.1,556.39 504.5,555.34 504.9,555.83 505.3,555.96 505.7,556.26 506.1,555.86 506.5,556.4 506.9,555.1 507.3,555.77 507.7,554.84 508.1,555.33 508.5,555.23 508.9,554.47 509.3,553.3 509.7,555.59 510.1,555.14 510.5,554.93 510.9,554.31 511.3,554.49 511.7,554.95 512.1,554.6 512.5,555.31 512.9,554.54 513.3,553.85 513.7,554.76 514.1,553.85 514.5,554.36 514.9,552.92 515.3,553.85 515.7,554.41 516.1,553.52 516.5,553.88 516.9,554.25 517.3,553.82 517.7,554.95 518.1,553.47 518.5,553.46 518.9,553.41 519.3,552.07 519.7,552.31 520.1,553.7 520.5,553.02 520.9,554.17 521.3,553.07 521.7,552.93 522.1,553.72 522.5,553.11 522.9,553.99 523.3,552.02 523.7,553.02 524.1,553.12 524.5,552.96 524.9,553.32 525.3,553.16 525.7,552.37 526.1,551.86 526.5,552.91 526.9,552.16 527.3,552.75 527.7,552.96 528.1,552.04 528.5,551.15 528.9,551.54 529.3,552.24 529.7,551.39 530.1,552.36 530.5,551.43 530.9,551.41 531.3,550.75 531.7,551.05 532.1,551.86 532.5,550.68 532.9,550.58 533.3,550.14 533.7,551.23 534.1,549.36 534.5,549.91 534.9,551.01 535.3,551.3 535.7,549.91 536.1,550.73 536.5,548.31 536.9,550.34 537.3,549.86 537.7,548.56 538.1,548 538.5,548.89 538.9,549.38 539.3,549.35 539.7,549.02 540.1,549.43 540.5,549.26 540.9,547.46 541.3,548.15 541.7,547.92 542.1,549.05 542.5,547.69 542.9,548.8 543.3,547.93 543.7,549.66 544.1,547.57 544.5,547.49 544.9,547.27 545.3,547.37 545.7,549.15 546.1,546.58 546.5,546.15 546.9,546.59 547.3,547.21 547.7,545.69 548.1,547.07 548.5,546.93 548.9,546.02 549.3,545.83 549.7,545.25 550.1,545.57 550.5,545.01 550.9,546.65 551.3,546.87 551.7,545.1 552.1,545.2 552.5,543.47 552.9,544.54 553.3,545.18 553.7,545.01 554.1,544.77 554.5,545.29 554.9,544.51 555.3,543.97 555.7,545.62 556.1,542.39 556.5,542.95 556.9,543.2 557.3,543.09 557.7,542.94 558.1,543.31 558.5,542.76 558.9,543.23 559.3,543.7 559.7,543.07 560.1,543.05 560.5,541.97 560.9,541.67 561.3,542.32 561.7,543.31 562.1,542.69 562.5,543.22 562.9,543.02 563.3,543.03 563.7,541.14 564.1,542.9 564.5,542.34 564.9,543.44 565.3,541.95 565.7,541.58 566.1,541.04 566.5,541.19 566.9,539.38 567.3,540.56 567.7,540.63 568.1,541.47 568.5,539.8 568.9,540.42 569.3,541.89 569.7,539.54 570.1,540.71 570.5,539.28 570.9,539.56 571.3,539.96 571.7,540.23 572.1,538.79 572.5,538.14 572.9,540.44 573.3,539.03 573.7,539.48 574.1,539.46 574.5,539.17 574.9,538.05 575.3,538.03 575.7,536.51 576.1,538.05 576.5,537.27 576.9,537.56 577.3,539.27 577.7,537.96 578.1,537.19 578.5,535.65 578.9,537.56 579.3,538.19 579.7,535.72 580.1,536.8 580.5,535.71 580.9,535.92 581.3,535.55 581.7,534.15 582.1,535.09 582.5,533.82 582.9,536.67 583.3,536.17 583.7,535 584.1,535.08 584.5,534.69 584.9,534.67 585.3,534.5 585.7,533.89 586.1,533.8 586.5,532.43 586.9,532.61 587.3,532.84 587.7,533.5 588.1,532.74 588.5,534.91 588.9,532.58 589.3,532.23 589.7,532.88 590.1,533.32 590.5,534.01 590.9,532.92 591.3,531.11 591.7,531.37 592.1,532.48 592.5,531.46 592.9,531.85 593.3,530.74 593.7,532.33 594.1,531.98 594.5,531.45 594.9,530.23 595.3,528.14 595.7,528.22 596.1,529.81 596.5,529.97 596.9,525.93 597.3,528.35 597.7,529.9 598.1,529.48 598.5,527.7 598.9,528.73 599.3,527.86 599.7,527.38 600.1,528.64 600.5,528.45 600.9,526.42 601.3,525.75 601.7,525.14 602.1,524.8 602.5,527.65 602.9,528.05 603.3,526 603.7,526.74 604.1,524.6 604.5,525.09 604.9,525.99 605.3,525.13 605.7,524.54 606.1,522.51 606.5,522.56 606.9,523.54 607.3,523.2 607.7,523.56 608.1,522.74 608.5,523.04 608.9,523.18 609.3,523.52 609.7,522.83 610.1,521.96 610.5,522.09 610.9,523.28 611.3,521.83 611.7,520.78 612.1,520.56 612.5,521.88 612.9,522.03 613.3,522.63 613.7,520.66 614.1,522.46 614.5,520.28 614.9,520.23 615.3,519.66 615.7,520.75 616.1,521.18 616.5,519.74 616.9,518.99 617.3,517.56 617.7,519.36 618.1,518.58 618.5,518.54 618.9,517.83 619.3,517.33 619.7,517.65 620.1,518.49 620.5,518.89 620.9,517.52 621.3,517.71 621.7,516.87 622.1,516.74 622.5,515.03 622.9,517.52 623.3,516.96 623.7,517.78 624.1,515.05 624.5,515.73 624.9,514.23 625.3,515.42 625.7,514.74 626.1,515.49 626.5,514.26 626.9,514.99 627.3,513.37 627.7,514.46 628.1,513.12 628.5,512.72 628.9,513.12 629.3,513.23 629.7,510.78 630.1,510.39 630.5,512.27 630.9,511.71 631.3,508.98 631.7,509.14 632.1,510.05 632.5,511.16 632.9,510.75 633.3,511.5 633.7,511.45 634.1,512.7 634.5,507.6 634.9,509.11 635.3,510.24 635.7,507 636.1,506.52 636.5,508.3 636.9,509.17 637.3,509.09 637.7,504.89 638.1,505.32 638.5,506.47 638.9,505.61 639.3,506.41 639.7,505.86 640.1,507.68 640.5,504.97 640.9,504.97 641.3,504.5 641.7,505.54 642.1,502.27 642.5,503.92 642.9,502.04 643.3,500.83 643.7,503.96 644.1,502.74 644.5,503.56 644.9,501.67 645.3,501.85 645.7,500.8 646.1,501.03 646.5,499.33 646.9,501.85 647.3,497.95 647.7,501.11 648.1,498.14 648.5,499.22 648.9,497.85 649.3,497.89 649.7,498.93 650.1,496.72 650.5,494.85 650.9,496.08 651.3,496.25 651.7,491.63 652.1,495.93 652.5,495.69 652.9,491.39 653.3,493.21 653.7,494.15 654.1,491.05 654.5,491.67 654.9,491.38 655.3,492.22 655.7,492.59 656.1,490.62 656.5,490.36 656.9,491.15 657.3,490.22 657.7,488.92 658.1,490.49 658.5,486.3 658.9,488.04 659.3,486.83 659.7,486.29 660.1,486.82 660.5,486.17 660.9,489.07 661.3,486.14 661.7,485.3 662.1,486.65 662.5,485.33 662.9,480.93 663.3,483.22 663.7,483.64 664.1,481.34 664.5,482.14 664.9,480.66 665.3,481.37 665.7,478.17 666.1,477.3 666.5,478.79 666.9,479.43 667.3,480.53 667.7,477.89 668.1,476.83 668.5,478.71 668.9,477.09 669.3,479.13 669.7,476.13 670.1,473.17 670.5,474.38 670.9,473.78 671.3,472.79 671.7,473.26 672.1,473 672.5,473.17 672.9,472.43 673.3,473.36 673.7,472.98 674.1,472.25 674.5,471.88 674.9,468.59 675.3,468.47 675.7,469.14 676.1,470.27 676.5,467.45 676.9,468.44 677.3,468.9 677.7,470.83 678.1,467.97 678.5,466.39 678.9,468.15 679.3,466.42 679.7,465.22 680.1,466.67 680.5,463.33 680.9,464.34 681.3,463.65 681.7,464.25 682.1,460.85 682.5,460.08 682.9,460.76 683.3,460.34 683.7,460.19 684.1,459.01 684.5,459.51 684.9,459.25 685.3,457.97 685.7,455.55 686.1,457.94 686.5,453.52 686.9,454.64 687.3,455.43 687.7,452.59 688.1,454.47 688.5,454.54 688.9,453.27 689.3,450.88 689.7,450.81 690.1,447.9 690.5,448.32 690.9,447.5 691.3,446.08 691.7,445.21 692.1,443.74 692.5,440.31 692.9,442.6 693.3,441.48 693.7,442.91 694.1,440.06 694.5,438.2 694.9,438.39 695.3,437.13 695.7,435.38 696.1,434.04 696.5,431.73 696.9,433.16 697.3,434.47 697.7,428.83 698.1,429.31 698.5,430.86 698.9,429.23 699.3,428.64 699.7,424.52 700.1,425.27 700.5,425.67 700.9,424.55 701.3,422.82 701.7,419.81 702.1,420.39 702.5,416.53 702.9,415.4 703.3,413.56 703.7,415.62 704.1,411.44 704.5,410.47 704.9,405.68 705.3,408.61 705.7,406.06 706.1,401.44 706.5,399.83 706.9,402.72 707.3,397.43 707.7,399.66 708.1,394.77 708.5,390.28 708.9,393.57 709.3,390.97 709.7,389.4 710.1,385.91 710.5,384.57 710.9,384.52 711.3,380.38 711.7,377.1 712.1,379.38 712.5,375.41 712.9,376.1 713.3,371.53 713.7,369.27 714.1,366.95 714.5,361.16 714.9,362.92 715.3,355.66 715.7,349.87 716.1,345.8 716.5,339.16 716.9,336.96 717.3,333.33 717.7,330.79 718.1,326.11 718.5,322.79 718.9,315.89 719.3,311.49 719.7,304.27 720.1,301.19 720.5,290.41 720.9,287.27 721.3,280.77 721.7,273.77 722.1,266.17 722.5,260.98 722.9,255.19 723.3,244.33 723.7,234.84 724.1,227.34 724.5,217.67 724.9,206.14 725.3,189.91 725.7,167.8 726.1,125.91 726.2,112.23" fill="none" stroke="#00f" stroke-width="3.2" stroke-linejoin="round"/>
<path class="g1" d="M118.4 594.3V574.62H116.33C116.05 576.24 114.73 578.12 111.21 578.28V580.38H115.66V594.3Z"/><rect x="93.41" y="585.8" width="14.7" height="2.2"/>
<text x="249.66" y="594.3" font-size="28" xml:space="preserve">0.5</text><rect x="234.36" y="585.8" width="14.7" height="2.2"/>
<text x="413.96" y="594.3" font-size="28" xml:space="preserve">0</text>
<text x="554.91" y="594.3" font-size="28" xml:space="preserve">0.5</text>
<path class="g1" d="M728.9 594.3V574.62H726.83C726.55 576.24 725.23 578.12 721.71 578.28V580.38H726.16V594.3Z"/>
<text x="94.73" y="571.8" font-size="28" xml:space="preserve">0</text>
<text x="71.38" y="484.92" font-size="28" xml:space="preserve">0.5</text>
<path class="g1" d="M104.42 398.03V378.35H102.34C102.06 379.97 100.75 381.85 97.22 382.02V384.12H101.67V398.03Z"/>
<path class="g1" d="M81.06 311.15V291.47H78.99C78.71 293.09 77.4 294.97 73.87 295.13V297.23H78.32V311.15Z"/><text x="86.95" y="311.15" font-size="28" xml:space="preserve">.5</text>
<text x="94.73" y="224.27" font-size="28" xml:space="preserve">2</text>
<text x="71.38" y="137.38" font-size="28" xml:space="preserve">2.5</text>
<text x="94.73" y="50.5" font-size="28" xml:space="preserve">3</text>
<text x="116.2" y="30.2" font-size="28">x </text><path class="g1" d="M147.67 30.2V10.52H145.6C145.32 12.14 144 14.02 140.47 14.18V16.28H144.92V30.2Z"/><text x="153.55" y="30.2" font-size="28" xml:space="preserve">0</text>
<path class="g1" d="M175.7 12.9V-0.46H174.29C174.1 0.64 173.21 1.92 170.81 2.03V3.46H173.84V12.9Z"/><text x="179.69" y="12.9" font-size="19" xml:space="preserve">0</text>
<text x="-3.6" y="74.3" font-size="46.5">(a)</text>
<g transform="translate(39.2 383.7) rotate(-90) scale(0.935 1)"><text x="0" y="0" font-size="34.5">dN/ds<tspan font-size="24.5" dy="16">i</tspan><tspan dy="-16">(a.u.)</tspan></text></g>
<text x="410" y="628.7" font-size="33">s<tspan font-size="24.5" dy="16.1">i</tspan></text>
<rect x="298.6" y="220.3" width="162.6" height="145.4" fill="#fff" stroke="#000" stroke-width="1.3"/>
<path d="M314 259.6H395" stroke="#f00" stroke-width="3.3"/>
<path d="M314 326.8H395" stroke="#00f" stroke-width="3.3"/>
<text x="403.3" y="263.3" font-size="28">s<tspan font-size="20.5" dy="13.5">i=x</tspan></text>
<text x="403.3" y="330.5" font-size="28">s<tspan font-size="20.5" dy="13.5">i=y</tspan></text>
<rect x="860.4" y="40.5" width="625" height="523.2" fill="none" stroke="#000" stroke-width="1.3"/>
<path d="M964.57 563.7V557.7M964.57 40.5V46.5M1068.73 563.7V557.7M1068.73 40.5V46.5M1172.9 563.7V557.7M1172.9 40.5V46.5M1277.07 563.7V557.7M1277.07 40.5V46.5M1381.23 563.7V557.7M1381.23 40.5V46.5M860.4 302.1H866.4M1485.4 302.1H1479.4" stroke="#000" stroke-width="1.3" fill="none"/>
<path d="M866.7 111.3V115.7M877.13 111.3V115.7M887.56 111.3V115.7M897.99 111.3V115.7M908.42 111.3V115.7M918.85 111.3V115.7M929.27 111.3V115.7M939.7 111.3V115.7M950.13 111.3V115.7M960.56 111.3V115.7M970.99 111.3V115.7M981.42 111.3V115.7M991.85 111.3V115.7M1002.28 111.3V115.7M1012.71 111.3V115.7M1023.13 111.3V115.7M1033.56 111.3V115.7M1043.99 111.3V115.7M1054.42 111.3V115.7M1064.85 111.3V115.7M1075.28 111.3V115.7M1085.71 111.3V115.7M1096.14 111.3V115.7M1106.57 111.3V115.7M1117 111.3V115.7M1127.43 111.3V115.7M1137.85 111.3V115.7M1148.28 111.3V115.7M1158.71 111.3V115.7M1169.14 111.3V115.7M1179.57 111.3V115.7M1190 111.3V115.7M1200.43 111.3V115.7M1210.86 111.3V115.7M1221.29 111.3V115.7M1231.72 111.3V115.7M1242.14 111.3V115.7M1252.57 111.3V115.7M1263 111.3V115.7M1273.43 111.3V115.7M1283.86 111.3V115.7M1294.29 111.3V115.7M1304.72 111.3V115.7M1315.15 111.3V115.7M1325.58 111.3V115.7M1336.01 111.3V115.7M1346.43 111.3V115.7M1356.86 111.3V115.7M1367.29 111.3V115.7M1377.72 111.3V115.7M1388.15 111.3V115.7M1398.58 111.3V115.7M1409.01 111.3V115.7M1419.44 111.3V115.7M1429.87 111.3V115.7M1440.3 111.3V115.7M1450.72 111.3V115.7M1461.15 111.3V115.7M1471.58 111.3V115.7M1482.01 111.3V115.7" stroke="#62295c" stroke-width="1.6"/>
<path d="M860.4 40.5L860.45 40.5L860.76 40.51L861.08 40.52L861.39 40.55L861.7 40.59L862.01 40.64L862.33 40.7L862.64 40.76L862.95 40.84L863.26 40.93L863.58 41.03L863.89 41.14L864.2 41.26L864.51 41.39L864.83 41.53L865.14 41.68L865.45 41.84L865.76 42.01L866.08 42.19L866.39 42.38L866.7 42.59L867.01 42.8L867.33 43.02L867.64 43.25L867.95 43.49L868.26 43.74L868.58 44.01L868.89 44.28L869.2 44.56L869.51 44.85L869.83 45.15L870.14 45.47L870.45 45.79L870.76 46.12L871.08 46.46L871.39 46.81L871.48 46.91M879.37 59.04L879.41 59.12L879.72 59.72L880.04 60.33L880.35 60.96L880.66 61.58L880.97 62.22L881.29 62.87L881.6 63.53L881.91 64.19L882.22 64.87L882.54 65.55L882.85 66.24L883.16 66.94L883.47 67.64L883.79 68.36L884.1 69.08L884.41 69.82L884.72 70.56L885.04 71.31L885.07 71.38M890.14 84.65L890.14 84.65L890.45 85.53L890.76 86.42L891.08 87.31L891.39 88.22L891.7 89.13L892.01 90.04L892.33 90.97L892.64 91.9L892.95 92.83L893.26 93.78L893.58 94.73L893.89 95.68L894.2 96.65L894.43 97.34M898.7 111.2L898.73 111.29L899.05 112.35L899.36 113.41L899.67 114.47L899.98 115.54L900.3 116.61L900.61 117.69L900.92 118.78L901.23 119.87L901.55 120.96L901.86 122.06L902.17 123.17L902.43 124.07M906.17 137.66L906.18 137.71L906.49 138.87L906.81 140.03L907.12 141.2L907.43 142.37L907.74 143.54L908.06 144.72L908.37 145.9L908.68 147.08L908.99 148.27L909.31 149.46L909.62 150.65L909.66 150.81M913.24 164.65L913.26 164.73L913.58 165.95L913.89 167.17L914.2 168.39L914.51 169.62L914.83 170.84L915.14 172.07L915.45 173.3L915.76 174.53L916.08 175.76L916.39 176.99L916.6 177.83M919.93 191.01L919.98 191.22L920.3 192.46L920.61 193.7L920.92 194.94L921.23 196.18L921.55 197.41L921.86 198.65L922.17 199.89L922.48 201.13L922.8 202.36L923.11 203.6L923.42 204.84L923.68 205.85M924.12 207.59L924.15 207.72L924.46 208.95L924.77 210.18L925.09 211.41L925.4 212.64L925.71 213.87L926.02 215.1L926.34 216.32L926.65 217.55L926.96 218.77L927.27 219.99L927.38 220.39M930.91 234.04L930.92 234.08L931.23 235.28L931.55 236.47L931.86 237.66L932.17 238.84L932.48 240.02L932.8 241.2L933.11 242.38L933.42 243.55L933.73 244.72L934.05 245.89L934.36 247.06L934.39 247.18M938.09 260.69L938.11 260.75L938.42 261.86L938.73 262.97L939.05 264.08L939.36 265.18L939.67 266.28L939.98 267.37L940.3 268.46L940.61 269.55L940.92 270.63L941.23 271.71L941.55 272.78L941.86 273.84L941.97 274.24M946.1 287.83L946.13 287.91L946.44 288.9L946.75 289.88L947.07 290.86L947.38 291.83L947.69 292.8L948 293.76L948.32 294.72L948.63 295.67L948.94 296.61L949.25 297.55L949.57 298.48L949.88 299.41L950.19 300.33L950.27 300.56M955.06 313.82L955.09 313.9L955.4 314.71L955.71 315.52L956.02 316.31L956.34 317.11L956.65 317.89L956.96 318.67L957.27 319.44L957.59 320.2L957.9 320.96L958.21 321.71L958.52 322.45L958.84 323.18L959.15 323.91L959.46 324.63L959.77 325.34L960.09 326.05L960.4 326.75L960.4 326.76M966.65 339.17L966.65 339.18L966.96 339.72L967.27 340.26L967.59 340.79L967.9 341.31L968.21 341.82L968.52 342.32L968.84 342.82L969.15 343.31L969.46 343.79L969.77 344.26L970.09 344.73L970.4 345.19L970.71 345.64L971.02 346.08L971.34 346.52L971.65 346.95L971.96 347.37L972.27 347.78L972.59 348.19L972.9 348.58L973.21 348.97L973.52 349.36L973.84 349.73L974.15 350.1L974.46 350.46L974.56 350.57M985.72 358.37L985.76 358.39L986.08 358.47L986.39 358.55L986.7 358.62L987.01 358.68L987.33 358.73L987.64 358.78L987.95 358.82L988.26 358.86L988.58 358.88L988.89 358.91L989.2 358.92L989.51 358.93L989.83 358.93L990.14 358.92L990.45 358.91L990.76 358.89L991.08 358.86L991.39 358.83L991.7 358.79L992.01 358.75L992.33 358.69L992.64 358.64L992.95 358.57L993.26 358.5L993.58 358.42L993.89 358.34L994.2 358.25L994.51 358.15L994.83 358.05L995.14 357.94L995.45 357.83L995.76 357.71L996.08 357.58L996.39 357.45L996.7 357.31L997.01 357.17L997.33 357.02L997.64 356.86L997.95 356.7L998.26 356.53L998.58 356.36L998.89 356.18L999.2 356M1009.21 347.45L1009.25 347.4L1009.57 347.06L1009.88 346.71L1010.19 346.37L1010.5 346.01L1010.82 345.66L1011.13 345.3L1011.44 344.93L1011.75 344.57L1012.07 344.2L1012.38 343.82L1012.69 343.44L1013 343.06L1013.32 342.68L1013.63 342.29L1013.94 341.9L1014.25 341.51L1014.57 341.11L1014.88 340.71L1015.19 340.31L1015.5 339.91L1015.82 339.5L1016.13 339.09L1016.44 338.67L1016.75 338.26L1017.07 337.84L1017.38 337.42L1017.41 337.38M1026.02 324.98L1026.03 324.97L1026.34 324.5L1026.65 324.03L1026.96 323.56L1027.28 323.09L1027.59 322.61L1027.9 322.14L1028.21 321.67L1028.53 321.19L1028.84 320.72L1029.15 320.24L1029.46 319.76L1029.78 319.29L1030.09 318.81L1030.4 318.33L1030.71 317.86L1031.03 317.38L1031.34 316.9L1031.65 316.42L1031.96 315.95L1032.28 315.47L1032.59 314.99L1032.9 314.51L1033.21 314.04L1033.53 313.56L1033.84 313.09L1033.88 313.03M1041.17 302.14L1041.18 302.13L1041.49 301.68L1041.81 301.23L1042.12 300.78L1042.43 300.33L1042.74 299.89L1043.06 299.44L1043.37 299L1043.68 298.56L1043.99 298.13L1044.31 297.69L1044.62 297.26L1044.93 296.83L1045.24 296.4L1045.56 295.97L1045.87 295.54L1046.18 295.12L1046.49 294.7L1046.81 294.28L1047.12 293.87L1047.43 293.45L1047.74 293.04L1048.06 292.63L1048.37 292.23L1048.68 291.82L1048.99 291.42L1049.31 291.02L1049.32 291.01M1058.51 280.6L1058.53 280.58L1058.84 280.28L1059.15 279.98L1059.46 279.68L1059.78 279.39L1060.09 279.1L1060.4 278.81L1060.71 278.53L1061.03 278.25L1061.34 277.97L1061.65 277.7L1061.96 277.43L1062.28 277.17L1062.59 276.91L1062.9 276.65L1063.21 276.4L1063.53 276.15L1063.84 275.9L1064.15 275.66L1064.46 275.42L1064.78 275.19L1065.09 274.96L1065.4 274.73L1065.71 274.51L1066.03 274.29L1066.34 274.08L1066.65 273.87L1066.96 273.66L1067.28 273.46L1067.59 273.26L1067.9 273.07L1068.21 272.88L1068.53 272.69L1068.84 272.51L1069.15 272.33L1069.46 272.15L1069.78 271.98L1070.09 271.82L1070.11 271.81M1082.75 268.52L1082.8 268.52L1083.11 268.52L1083.42 268.53L1083.73 268.54L1084.05 268.55L1084.36 268.57L1084.67 268.6L1084.98 268.62L1085.3 268.65L1085.61 268.69L1085.92 268.73L1086.23 268.77L1086.55 268.81L1086.86 268.86L1087.17 268.92L1087.48 268.97L1087.8 269.04L1088.11 269.1L1088.42 269.17L1088.73 269.24L1089.05 269.32L1089.36 269.4L1089.67 269.48L1089.98 269.57L1090.3 269.66L1090.61 269.75L1090.92 269.85L1091.23 269.95L1091.55 270.05L1091.86 270.16L1092.17 270.27L1092.48 270.39L1092.8 270.51L1093.11 270.63L1093.42 270.75L1093.73 270.88L1094.05 271.01L1094.36 271.15L1094.67 271.29L1094.98 271.43L1095.3 271.57L1095.61 271.72L1095.92 271.87L1096.09 271.96M1107.44 279.41L1107.48 279.45L1107.8 279.7L1108.11 279.96L1108.42 280.21L1108.73 280.47L1109.05 280.73L1109.36 280.99L1109.67 281.25L1109.98 281.51L1110.3 281.78L1110.61 282.05L1110.92 282.32L1111.23 282.59L1111.55 282.86L1111.86 283.13L1112.17 283.41L1112.48 283.69L1112.8 283.97L1113.11 284.25L1113.42 284.53L1113.73 284.81L1114.05 285.1L1114.36 285.38L1114.67 285.67L1114.98 285.96L1115.3 286.25L1115.61 286.54L1115.92 286.83L1116.23 287.12L1116.55 287.42L1116.86 287.71L1117.17 288.01L1117.48 288.3L1117.8 288.6L1118.11 288.9L1118.42 289.2L1118.73 289.5L1119.05 289.8L1119.36 290.1L1119.67 290.4L1119.98 290.71L1120.3 291.01L1120.61 291.32L1120.71 291.41M1130.62 301.15L1130.66 301.19L1130.97 301.49L1131.29 301.8L1131.6 302.1L1131.91 302.4L1132.22 302.7L1132.54 303L1132.85 303.3L1133.16 303.59L1133.47 303.89L1133.79 304.19L1134.1 304.48L1134.41 304.78L1134.72 305.07L1135.04 305.36L1135.35 305.65L1135.66 305.95L1135.97 306.23L1136.29 306.52L1136.6 306.81L1136.91 307.09L1137.22 307.38L1137.54 307.66L1137.85 307.94L1138.16 308.22L1138.47 308.5L1138.79 308.78L1139.1 309.06L1139.41 309.33L1139.72 309.61L1140.04 309.88L1140.35 310.15L1140.66 310.42L1140.97 310.68L1141.07 310.77M1151.71 318.73L1151.75 318.75L1152.07 318.95L1152.38 319.14L1152.69 319.33L1153 319.52L1153.32 319.7L1153.63 319.89L1153.94 320.07L1154.25 320.25L1154.57 320.42L1154.88 320.6L1155.19 320.77L1155.5 320.94L1155.82 321.1L1156.13 321.26L1156.44 321.42L1156.75 321.58L1157.07 321.74L1157.38 321.89L1157.69 322.04L1158 322.19L1158.32 322.33L1158.63 322.47L1158.94 322.61L1159.25 322.75L1159.57 322.88L1159.88 323.01L1160.19 323.14L1160.5 323.27L1160.82 323.39L1161.13 323.51L1161.44 323.63L1161.75 323.74L1162.07 323.85L1162.38 323.96L1162.69 324.07L1163 324.17L1163.32 324.27L1163.63 324.37L1163.94 324.46L1164.25 324.56L1164.57 324.64L1164.76 324.7M1178.23 325.75L1178.26 325.75L1178.58 325.71L1178.89 325.67L1179.2 325.63L1179.51 325.58L1179.83 325.54L1180.14 325.48L1180.45 325.43L1180.76 325.37L1181.08 325.32L1181.39 325.25L1181.7 325.19L1182.01 325.12L1182.33 325.05L1182.64 324.98L1182.95 324.91L1183.26 324.83L1183.58 324.75L1183.89 324.67L1184.2 324.58L1184.51 324.5L1184.83 324.41L1185.14 324.31L1185.45 324.22L1185.76 324.12L1186.08 324.02L1186.39 323.92L1186.7 323.82L1187.01 323.71L1187.33 323.6L1187.64 323.49L1187.95 323.38L1188.26 323.26L1188.58 323.14L1188.89 323.02L1189.2 322.9L1189.51 322.78L1189.83 322.65L1190.14 322.52L1190.45 322.39L1190.76 322.26L1191.08 322.12L1191.39 321.98L1191.7 321.84L1191.72 321.84M1204 314.93L1204.05 314.9L1204.36 314.69L1204.67 314.49L1204.98 314.28L1205.3 314.07L1205.61 313.86L1205.92 313.65L1206.23 313.44L1206.55 313.23L1206.86 313.01L1207.17 312.8L1207.48 312.58L1207.8 312.37L1208.11 312.15L1208.42 311.93L1208.73 311.72L1209.05 311.5L1209.36 311.28L1209.67 311.06L1209.98 310.83L1210.3 310.61L1210.61 310.39L1210.92 310.17L1211.23 309.94L1211.55 309.72L1211.86 309.49L1212.17 309.27L1212.48 309.04L1212.8 308.82L1213.11 308.59L1213.42 308.36L1213.73 308.14L1214.05 307.91L1214.36 307.68L1214.67 307.45L1214.98 307.23L1215.05 307.18M1226.23 299.09L1226.23 299.08L1226.55 298.87L1226.86 298.65L1227.17 298.43L1227.48 298.22L1227.8 298L1228.11 297.79L1228.42 297.57L1228.73 297.36L1229.05 297.15L1229.36 296.94L1229.67 296.73L1229.98 296.52L1230.3 296.31L1230.61 296.11L1230.92 295.9L1231.23 295.7L1231.55 295.5L1231.86 295.29L1232.17 295.09L1232.48 294.89L1232.8 294.69L1233.11 294.5L1233.42 294.3L1233.73 294.11L1234.05 293.91L1234.36 293.72L1234.67 293.53L1234.98 293.34L1235.3 293.15L1235.61 292.96L1235.92 292.78L1236.23 292.59L1236.55 292.41L1236.86 292.23L1237.17 292.05L1237.48 291.87L1237.8 291.69L1238.02 291.56M1250.69 285.9L1250.71 285.89L1251.03 285.8L1251.34 285.7L1251.65 285.6L1251.96 285.51L1252.28 285.42L1252.59 285.33L1252.9 285.24L1253.21 285.16L1253.53 285.07L1253.84 284.99L1254.15 284.92L1254.46 284.84L1254.78 284.76L1255.09 284.69L1255.4 284.62L1255.71 284.56L1256.03 284.49L1256.34 284.43L1256.65 284.37L1256.96 284.31L1257.28 284.25L1257.59 284.2L1257.9 284.14L1258.21 284.09L1258.53 284.05L1258.84 284L1259.15 283.96L1259.46 283.91L1259.78 283.88L1260.09 283.84L1260.4 283.8L1260.71 283.77L1261.03 283.74L1261.34 283.71L1261.65 283.69L1261.96 283.66L1262.28 283.64L1262.59 283.62L1262.9 283.61L1263.21 283.59L1263.53 283.58L1263.74 283.57M1277.79 285.27L1277.8 285.27L1278.11 285.36L1278.42 285.44L1278.73 285.53L1279.05 285.62L1279.36 285.71L1279.67 285.81L1279.98 285.9L1280.3 286L1280.61 286.1L1280.92 286.2L1281.23 286.3L1281.55 286.4L1281.86 286.51L1282.17 286.61L1282.48 286.72L1282.8 286.83L1283.11 286.94L1283.42 287.06L1283.73 287.17L1284.05 287.29L1284.36 287.41L1284.67 287.53L1284.98 287.65L1285.3 287.77L1285.61 287.9L1285.92 288.02L1286.23 288.15L1286.55 288.28L1286.86 288.41L1287.17 288.54L1287.48 288.67L1287.8 288.81L1288.11 288.94L1288.42 289.08L1288.73 289.22L1289.05 289.36L1289.36 289.5L1289.67 289.64L1289.98 289.79L1290.3 289.93L1290.51 290.03M1298.87 294.32L1298.89 294.33L1299.2 294.5L1299.51 294.68L1299.83 294.85L1300.14 295.02L1300.45 295.2L1300.76 295.37L1301.08 295.55L1301.39 295.73L1301.7 295.9L1302.01 296.08L1302.33 296.26L1302.64 296.44L1302.95 296.61L1303.26 296.79L1303.58 296.97L1303.89 297.15L1304.2 297.33L1304.51 297.51L1304.83 297.69L1305.14 297.87L1305.45 298.05L1305.76 298.24L1306.08 298.42L1306.39 298.6L1306.7 298.78L1307.01 298.96L1307.33 299.15L1307.64 299.33L1307.95 299.51L1308.26 299.69L1308.58 299.87L1308.89 300.06L1309.2 300.24L1309.51 300.42L1309.72 300.54M1321.83 307.35L1321.86 307.36L1322.17 307.53L1322.48 307.69L1322.8 307.85L1323.11 308.01L1323.42 308.17L1323.73 308.33L1324.05 308.49L1324.36 308.65L1324.67 308.81L1324.98 308.96L1325.3 309.12L1325.61 309.27L1325.92 309.42L1326.23 309.57L1326.55 309.72L1326.86 309.87L1327.17 310.02L1327.48 310.17L1327.8 310.31L1328.11 310.46L1328.42 310.6L1328.73 310.74L1329.05 310.88L1329.36 311.02L1329.67 311.16L1329.98 311.3L1330.3 311.43L1330.61 311.57L1330.92 311.7L1331.23 311.83L1331.55 311.96L1331.86 312.09L1332.17 312.22L1332.48 312.35L1332.8 312.47L1333.11 312.6L1333.42 312.72L1333.73 312.84L1333.81 312.87M1347.98 316.68L1348 316.69L1348.32 316.73L1348.63 316.77L1348.94 316.82L1349.25 316.86L1349.57 316.89L1349.88 316.93L1350.19 316.96L1350.5 316.99L1350.82 317.02L1351.13 317.05L1351.44 317.08L1351.75 317.1L1352.07 317.13L1352.38 317.15L1352.69 317.17L1353 317.19L1353.32 317.2L1353.63 317.22L1353.94 317.23L1354.25 317.24L1354.57 317.25L1354.88 317.26L1355.19 317.26L1355.5 317.26L1355.82 317.27L1356.13 317.27L1356.44 317.26L1356.75 317.26L1357.07 317.25L1357.38 317.25L1357.69 317.24L1358 317.23L1358.32 317.21L1358.63 317.2L1358.94 317.18L1359.25 317.16L1359.57 317.15L1359.88 317.12L1360.19 317.1L1360.5 317.08L1360.82 317.05L1361.13 317.02L1361.44 316.99L1361.75 316.96L1361.94 316.94M1374.92 314.16L1374.93 314.16L1375.24 314.06L1375.56 313.96L1375.87 313.86L1376.18 313.76L1376.49 313.65L1376.81 313.55L1377.12 313.44L1377.43 313.34L1377.74 313.23L1378.06 313.12L1378.37 313.01L1378.68 312.9L1378.99 312.79L1379.31 312.67L1379.62 312.56L1379.93 312.44L1380.24 312.32L1380.56 312.21L1380.87 312.09L1381.18 311.97L1381.49 311.85L1381.81 311.72L1382.12 311.6L1382.43 311.48L1382.74 311.35L1383.06 311.23L1383.37 311.1L1383.68 310.97L1383.99 310.84L1384.31 310.71L1384.62 310.58L1384.93 310.45L1385.24 310.32L1385.56 310.19L1385.87 310.05L1386.18 309.92L1386.49 309.78L1386.81 309.65L1387.12 309.51L1387.43 309.37L1387.71 309.25M1400.46 303.23L1400.5 303.21L1400.82 303.06L1401.13 302.91L1401.44 302.76L1401.75 302.61L1402.07 302.46L1402.38 302.3L1402.69 302.15L1403 302L1403.32 301.85L1403.63 301.7L1403.94 301.55L1404.25 301.4L1404.57 301.25L1404.88 301.1L1405.19 300.95L1405.5 300.81L1405.82 300.66L1406.13 300.51L1406.44 300.36L1406.75 300.21L1407.07 300.07L1407.38 299.92L1407.69 299.77L1408 299.63L1408.32 299.48L1408.63 299.34L1408.94 299.19L1409.25 299.05L1409.57 298.91L1409.88 298.76L1410.19 298.62L1410.5 298.48L1410.82 298.34L1411.13 298.2L1411.44 298.06L1411.75 297.92L1412.07 297.78L1412.38 297.64L1412.69 297.51L1412.77 297.47M1426.15 292.45L1426.18 292.44L1426.49 292.35L1426.81 292.26L1427.12 292.16L1427.43 292.07L1427.74 291.99L1428.06 291.9L1428.37 291.81L1428.68 291.73L1428.99 291.65L1429.31 291.56L1429.62 291.48L1429.93 291.4L1430.24 291.33L1430.56 291.25L1430.87 291.18L1431.18 291.1L1431.49 291.03L1431.81 290.96L1432.12 290.89L1432.43 290.82L1432.74 290.75L1433.06 290.69L1433.37 290.62L1433.68 290.56L1433.99 290.5L1434.31 290.44L1434.62 290.38L1434.93 290.33L1435.24 290.27L1435.56 290.22L1435.87 290.16L1436.18 290.11L1436.49 290.06L1436.81 290.02L1437.12 289.97L1437.43 289.92L1437.74 289.88L1438.06 289.84L1438.37 289.8L1438.68 289.76L1438.99 289.72L1439.25 289.69M1453.32 289.62L1453.37 289.63L1453.68 289.66L1453.99 289.69L1454.31 289.73L1454.62 289.77L1454.93 289.8L1455.24 289.84L1455.56 289.89L1455.87 289.93L1456.18 289.97L1456.49 290.02L1456.81 290.06L1457.12 290.11L1457.43 290.16L1457.74 290.21L1458.06 290.27L1458.37 290.32L1458.68 290.37L1458.99 290.43L1459.31 290.49L1459.62 290.55L1459.93 290.61L1460.24 290.67L1460.56 290.73L1460.87 290.8L1461.18 290.86L1461.49 290.93L1461.81 291L1462.12 291.07L1462.43 291.14L1462.74 291.21L1463.06 291.28L1463.37 291.35L1463.68 291.43L1463.99 291.51L1464.31 291.58L1464.62 291.66L1464.93 291.74L1465.24 291.82L1465.56 291.9L1465.87 291.99L1466.18 292.07L1466.49 292.16L1466.66 292.2M1480.01 296.72L1480.04 296.73L1480.35 296.85L1480.66 296.98L1480.97 297.1L1481.29 297.22L1481.6 297.34L1481.91 297.47L1482.22 297.59L1482.54 297.72L1482.85 297.84L1483.16 297.97L1483.47 298.09L1483.79 298.22L1484.1 298.34L1484.41 298.47L1484.72 298.6L1485.04 298.73L1485.35 298.85L1485.4 298.87" fill="none" stroke="#000" stroke-width="2"/>
<polyline points="947.6,57.6 999.6,62.8 1072.7,69.2 1128.9,71.3 1152,73.6 1173.3,80.1 1195.6,82.3 1239.3,96.9 1364.5,120.1 1485.4,154.7" fill="none" stroke="#f00" stroke-width="4.5" stroke-dasharray="14 13.77"/>
<circle cx="947.6" cy="57.6" r="9.2" fill="#f00"/>
<circle cx="999.6" cy="62.8" r="9.2" fill="#f00"/>
<circle cx="1072.7" cy="69.2" r="9.2" fill="#f00"/>
<circle cx="1128.9" cy="71.3" r="9.2" fill="#f00"/>
<circle cx="1152" cy="73.6" r="9.2" fill="#f00"/>
<circle cx="1173.3" cy="80.1" r="9.2" fill="#f00"/>
<circle cx="1195.6" cy="82.3" r="9.2" fill="#f00"/>
<circle cx="1239.3" cy="96.9" r="9.2" fill="#f00"/>
<circle cx="1364.5" cy="120.1" r="9.2" fill="#f00"/>
<circle cx="1485.4" cy="154.7" r="9.2" fill="#f00"/>
<polyline points="927,55.1 1010.1,64.3 1068.8,74.3 1182.7,103 1264.9,120 1369,159.2 1481.2,202.6" fill="none" stroke="#000" stroke-width="4.5" stroke-dasharray="14 13.77"/>
<rect x="919.2" y="47.3" width="15.6" height="15.6"/>
<rect x="1002.3" y="56.5" width="15.6" height="15.6"/>
<rect x="1061" y="66.5" width="15.6" height="15.6"/>
<rect x="1174.9" y="95.2" width="15.6" height="15.6"/>
<rect x="1257.1" y="112.2" width="15.6" height="15.6"/>
<rect x="1361.2" y="151.4" width="15.6" height="15.6"/>
<rect x="1473.4" y="194.8" width="15.6" height="15.6"/>
<path d="M880.8 46.4L890.8 59.3L880.8 72.2L870.8 59.3Z" fill="#0ff"/>
<path d="M887.4 61.6L897.4 74.5L887.4 87.4L877.4 74.5Z" fill="#0ff"/>
<path d="M893.6 125.1L903.6 138L893.6 150.9L883.6 138Z" fill="#0ff"/>
<path d="M901.4 204.2L911.4 217.1L901.4 230L891.4 217.1Z" fill="#0ff"/>
<path d="M926.9 293.4L936.9 306.3L926.9 319.2L916.9 306.3Z" fill="#0ff"/>
<path d="M964.4 357.4L974.4 370.3L964.4 383.2L954.4 370.3Z" fill="#0ff"/>
<path d="M1027 324.3L1037 337.2L1027 350.1L1017 337.2Z" fill="#0ff"/>
<path d="M1079 263.6L1089 276.5L1079 289.4L1069 276.5Z" fill="#0ff"/>
<path d="M1152 280.8L1162 293.7L1152 306.6L1142 293.7Z" fill="#0ff"/>
<path d="M1208 284.6L1218 297.5L1208 310.4L1198 297.5Z" fill="#0ff"/>
<path d="M1297.8 314.9L1307.8 327.8L1297.8 340.7L1287.8 327.8Z" fill="#0ff"/>
<polygon points="884.85,57.2 888.06,67.08 898.45,67.08 890.05,73.19 893.26,83.07 884.85,76.96 876.44,83.07 879.65,73.19 871.25,67.08 881.64,67.08" fill="#dc7f00"/>
<polygon points="897.7,128.2 900.91,138.08 911.3,138.08 902.9,144.19 906.11,154.07 897.7,147.96 889.29,154.07 892.5,144.19 884.1,138.08 894.49,138.08" fill="#dc7f00"/>
<polygon points="914.1,246.6 917.31,256.48 927.7,256.48 919.3,262.59 922.51,272.47 914.1,266.36 905.69,272.47 908.9,262.59 900.5,256.48 910.89,256.48" fill="#dc7f00"/>
<polygon points="937.1,347.7 940.31,357.58 950.7,357.58 942.3,363.69 945.51,373.57 937.1,367.46 928.69,373.57 931.9,363.69 923.5,357.58 933.89,357.58" fill="#dc7f00"/>
<polygon points="991.3,372.8 994.51,382.68 1004.9,382.68 996.5,388.79 999.71,398.67 991.3,392.56 982.89,398.67 986.1,388.79 977.7,382.68 988.09,382.68" fill="#dc7f00"/>
<polygon points="1053.8,280.8 1057.01,290.68 1067.4,290.68 1059,296.79 1062.21,306.67 1053.8,300.56 1045.39,306.67 1048.6,296.79 1040.2,290.68 1050.59,290.68" fill="#dc7f00"/>
<polygon points="1176.7,318.2 1179.91,328.08 1190.3,328.08 1181.9,334.19 1185.11,344.07 1176.7,337.96 1168.29,344.07 1171.5,334.19 1163.1,328.08 1173.49,328.08" fill="#dc7f00"/>
<polygon points="1287.2,303.6 1290.41,313.48 1300.8,313.48 1292.4,319.59 1295.61,329.47 1287.2,323.36 1278.79,329.47 1282,319.59 1273.6,313.48 1283.99,313.48" fill="#dc7f00"/>
<text x="852.61" y="596.3" font-size="28" xml:space="preserve">0</text>
<text x="956.78" y="596.3" font-size="28" xml:space="preserve">5</text>
<path class="g1" d="M1062.85 596.3V576.62H1060.78C1060.5 578.24 1059.18 580.12 1055.65 580.28V582.38H1060.11V596.3Z"/><text x="1068.73" y="596.3" font-size="28" xml:space="preserve">0</text>
<path class="g1" d="M1167.02 596.3V576.62H1164.94C1164.66 578.24 1163.35 580.12 1159.82 580.28V582.38H1164.27V596.3Z"/><text x="1172.9" y="596.3" font-size="28" xml:space="preserve">5</text>
<text x="1261.49" y="596.3" font-size="28" xml:space="preserve">20</text>
<text x="1365.66" y="596.3" font-size="28" xml:space="preserve">25</text>
<text x="1469.83" y="596.3" font-size="28" xml:space="preserve">30</text>
<path class="g1" d="M848.02 573.9V554.22H845.94C845.66 555.84 844.35 557.72 840.82 557.88V559.98H845.27V573.9Z"/><rect x="823.03" y="565.4" width="14.7" height="2.2"/>
<text x="838.33" y="312.3" font-size="28" xml:space="preserve">0</text>
<path class="g1" d="M848.02 50.7V31.02H845.94C845.66 32.64 844.35 34.52 840.82 34.68V36.78H845.27V50.7Z"/>
<text x="753.9" y="74.3" font-size="46.5">(b)</text>
<g transform="translate(804.2 385.85) rotate(-90) scale(0.96 1)"><text x="0" y="0" font-size="33.7">Polarization</text></g>
<text x="1117" y="630.4" font-size="33.9">I</text>
<text x="1125.6" y="646.1" font-size="26">peak</text>
<g transform="translate(1181.1 630.4) scale(0.95 1)"><text x="0" y="0" font-size="33.9">/kA</text></g>
<rect x="1064.4" y="380.6" width="264.5" height="170" fill="#fff" stroke="#000" stroke-width="1.3"/>
<path d="M1077.9 400.9H1092.2M1105.8 400.9H1120.2M1133.8 400.9H1148.1" stroke="#000" stroke-width="2.2"/>
<path d="M1077.9 433.2H1092.2M1133.8 433.2H1148.1" stroke="#f00" stroke-width="4.7"/>
<circle cx="1112.8" cy="433.2" r="9.2" fill="#f00"/>
<path d="M1077.9 465.6H1092.2M1133.8 465.6H1148.1" stroke="#000" stroke-width="4.7"/>
<rect x="1105" y="457.8" width="15.6" height="15.6"/>
<path d="M1112.8 485.1L1122.8 498L1112.8 510.9L1102.8 498Z" fill="#0ff"/>
<polygon points="1112.8,516.1 1116.01,525.98 1126.4,525.98 1118,532.09 1121.21,541.97 1112.8,535.86 1104.39,541.97 1107.6,532.09 1099.2,525.98 1109.59,525.98" fill="#dc7f00"/>
<g transform="translate(1154.3 409.1) scale(0.952 1)"><text x="0" y="0" font-size="24.5" xml:space="preserve">Theoretical</text></g>
<g transform="translate(1153.9 441.4) scale(0.952 1)"><text x="0" y="0" font-size="24.5" xml:space="preserve">LG case</text><path class="g1" d="M99.72 0V-17.22H97.9C97.66 -15.8 96.51 -14.16 93.42 -14.01V-12.18H97.32V0Z"/></g>
<g transform="translate(1153.9 473.8) scale(0.952 1)"><text x="0" y="0" font-size="24.5" xml:space="preserve">LG case2</text></g>
<g transform="translate(1153.8 506.2) scale(0.952 1)"><text x="0" y="0" font-size="24.5" xml:space="preserve">Gaussian case</text><path class="g1" d="M170.54 0V-17.22H168.73C168.48 -15.8 167.33 -14.16 164.24 -14.01V-12.18H168.14V0Z"/></g>
<g transform="translate(1153.8 538.6) scale(0.952 1)"><text x="0" y="0" font-size="24.5" xml:space="preserve">Gaussian case2</text></g>
</svg>
</body></html>
